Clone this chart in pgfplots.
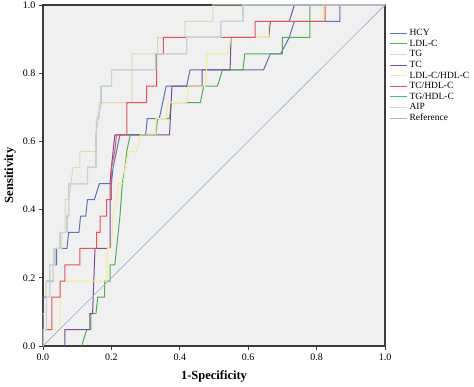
\documentclass[border=0pt]{standalone}
\usepackage{fontspec}
\setmainfont{Liberation Serif}
\usepackage{pgfplots}
\pgfplotsset{compat=1.18}
\definecolor{bgc}{HTML}{F0F0F0}
\definecolor{axc}{HTML}{3C3C3C}
\definecolor{chcy}{HTML}{5E72B4}
\definecolor{cldl}{HTML}{4CB050}
\definecolor{ctg}{HTML}{DDD8B4}
\definecolor{ctc}{HTML}{7A4C9C}
\definecolor{cldlh}{HTML}{F4EE82}
\definecolor{ctch}{HTML}{E8505A}
\definecolor{ctgh}{HTML}{4EB88A}
\definecolor{caip}{HTML}{C9D1DC}
\definecolor{cref}{HTML}{9CBAD8}
\begin{document}
\begin{tikzpicture}[x=1pt,y=1pt]
\useasboundingbox (-43,-40) rectangle (431,346);
\begin{axis}[
 at={(0,0)}, anchor=south west,
 scale only axis, width=342pt, height=341pt,
 xmin=0, xmax=1, ymin=0, ymax=1,
 axis background/.style={fill=bgc},
 axis line style={draw=axc, line width=1.4pt},
 xtick={0,0.2,0.4,0.6,0.8,1}, ytick={0,0.2,0.4,0.6,0.8,1},
 tick align=outside, tick pos=left,
 major tick length=4pt,
 tick style={draw=axc, line width=0.8pt},
 ticklabel style={font=\fontsize{10}{12}\selectfont},
 /pgf/number format/.cd, fixed, fixed zerofill, precision=1, assume math mode=true,
 /pgfplots/.cd,
 xlabel={1-Specificity}, ylabel={Sensitivity},
 label style={font=\bfseries\fontsize{12.5}{14}\selectfont},
 x label style={at={(axis description cs:0.5,-0.088)}, anchor=center},
 y label style={at={(axis description cs:-0.096,0.5)}, anchor=center},
 legend style={draw=none, fill=none, at={(rel axis cs:1.012,0.935)}, anchor=north west,
   font=\fontsize{9.5}{10}\selectfont, row sep=-1.2pt, inner sep=0pt},
 legend cell align=left,
 every axis plot/.append style={line width=1pt, no marks},
]
% HCY
\addplot[chcy] coordinates {(0,0) (0,0.143) (0.01,0.143) (0.01,0.190) (0.03,0.190) (0.03,0.238) (0.04,0.238) (0.04,0.286) (0.07,0.286) (0.075,0.333) (0.105,0.333) (0.11,0.381) (0.125,0.381) (0.13,0.429) (0.15,0.429) (0.165,0.476) (0.2,0.476) (0.205,0.524) (0.215,0.571) (0.225,0.619) (0.3,0.619) (0.305,0.667) (0.34,0.667) (0.35,0.714) (0.36,0.762) (0.42,0.762) (0.43,0.810) (0.645,0.810) (0.665,0.857) (0.695,0.857) (0.72,0.905) (0.735,0.952) (0.868,0.952) (0.868,1) (1,1)};
% LDL-C
\addplot[cldl] coordinates {(0.113,0) (0.128,0.048) (0.14,0.048) (0.14,0.095) (0.155,0.095) (0.16,0.143) (0.18,0.143) (0.18,0.190) (0.196,0.190) (0.196,0.238) (0.21,0.238) (0.215,0.286) (0.225,0.381) (0.232,0.476) (0.24,0.524) (0.245,0.571) (0.255,0.619) (0.33,0.619) (0.335,0.667) (0.37,0.667) (0.375,0.714) (0.46,0.714) (0.47,0.762) (0.51,0.762) (0.525,0.810) (0.585,0.810) (0.59,0.857) (0.70,0.857) (0.70,0.905) (0.78,0.905) (0.78,1) (1,1)};
% TG
\addplot[ctg] coordinates {(0,0) (0,0.095) (0.01,0.095) (0.01,0.190) (0.03,0.190) (0.03,0.286) (0.055,0.286) (0.055,0.333) (0.065,0.333) (0.065,0.429) (0.075,0.429) (0.088,0.524) (0.108,0.524) (0.108,0.571) (0.155,0.571) (0.155,0.667) (0.165,0.667) (0.165,0.714) (0.26,0.714) (0.26,0.857) (0.335,0.857) (0.335,0.905) (0.415,0.905) (0.415,0.952) (0.497,0.952) (0.497,1) (1,1)};
% TC
\addplot[ctc] coordinates {(0.064,0) (0.064,0.048) (0.137,0.048) (0.137,0.095) (0.145,0.095) (0.152,0.286) (0.196,0.286) (0.196,0.476) (0.2,0.524) (0.205,0.571) (0.21,0.619) (0.37,0.619) (0.377,0.762) (0.465,0.762) (0.465,0.810) (0.547,0.810) (0.55,0.905) (0.66,0.905) (0.665,0.952) (0.72,0.952) (0.735,1) (1,1)};
% LDL-C/HDL-C
\addplot[cldlh] coordinates {(0,0) (0,0.048) (0.05,0.048) (0.05,0.190) (0.188,0.190) (0.188,0.286) (0.2,0.286) (0.205,0.381) (0.215,0.429) (0.22,0.476) (0.235,0.476) (0.24,0.524) (0.25,0.571) (0.275,0.571) (0.285,0.619) (0.33,0.619) (0.33,0.667) (0.36,0.667) (0.365,0.714) (0.42,0.714) (0.425,0.762) (0.475,0.762) (0.48,0.857) (0.54,0.857) (0.55,0.905) (0.66,0.905) (0.66,0.952) (0.82,0.952) (0.82,1) (1,1)};
% TC/HDL-C
\addplot[ctch] coordinates {(0,0) (0,0.048) (0.026,0.048) (0.026,0.143) (0.05,0.143) (0.05,0.190) (0.064,0.190) (0.064,0.238) (0.108,0.238) (0.108,0.286) (0.157,0.286) (0.157,0.333) (0.167,0.333) (0.167,0.381) (0.186,0.381) (0.186,0.429) (0.2,0.429) (0.2,0.524) (0.21,0.571) (0.215,0.619) (0.245,0.619) (0.245,0.714) (0.303,0.714) (0.303,0.762) (0.332,0.762) (0.332,0.857) (0.352,0.857) (0.352,0.905) (0.62,0.905) (0.62,0.952) (0.825,0.952) (0.825,1) (1,1)};
% TG/HDL-C
\addplot[ctgh, line width=0.8pt] coordinates {(0,0) (0,0.048) (0.01,0.048) (0.01,0.143) (0.02,0.143) (0.02,0.238) (0.035,0.238) (0.035,0.286) (0.05,0.286) (0.05,0.333) (0.07,0.333) (0.07,0.381) (0.075,0.381) (0.075,0.476) (0.13,0.476) (0.13,0.524) (0.155,0.524) (0.155,0.619) (0.16,0.667) (0.17,0.714) (0.17,0.762) (0.2,0.762) (0.2,0.810) (0.33,0.810) (0.33,0.857) (0.42,0.857) (0.42,0.905) (0.52,0.905) (0.52,0.952) (0.585,0.952) (0.585,1) (1,1)};
% AIP
\addplot[caip, line width=1.2pt] coordinates {(0,0) (0,0.048) (0.01,0.048) (0.01,0.143) (0.02,0.143) (0.02,0.238) (0.035,0.238) (0.035,0.286) (0.05,0.286) (0.05,0.333) (0.07,0.333) (0.07,0.381) (0.075,0.381) (0.075,0.476) (0.13,0.476) (0.13,0.524) (0.155,0.524) (0.155,0.619) (0.16,0.667) (0.17,0.714) (0.17,0.762) (0.2,0.762) (0.2,0.810) (0.33,0.810) (0.33,0.857) (0.42,0.857) (0.42,0.905) (0.52,0.905) (0.52,0.952) (0.585,0.952) (0.585,1) (1,1)};
% Reference
\addplot[cref, line width=0.8pt] coordinates {(0,0) (1,1)};
\legend{HCY, LDL-C, TG, TC, LDL-C/HDL-C, TC/HDL-C, TG/HDL-C, AIP, Reference}
\end{axis}
\end{tikzpicture}
\end{document}
